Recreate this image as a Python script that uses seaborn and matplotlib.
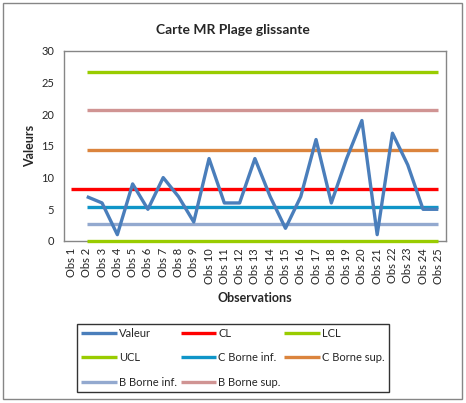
import numpy as np
import pandas as pd
import matplotlib
matplotlib.use("Agg")
import matplotlib.pyplot as plt
import seaborn as sns
from matplotlib.patches import Rectangle

# data
obs_labels = [f"Obs {i}" for i in range(1, 26)]
mr_values = [np.nan, 7, 6, 1, 9, 5, 10, 7, 3, 13, 6, 6, 13, 7, 2, 7, 16, 6, 13, 19, 1, 17, 12, 5, 5]
cl = 8.17
lcl = 0.0
ucl = 26.7
c_inf = 5.3
c_sup = 14.3
b_inf = 2.7
b_sup = 20.6

sns.set_style("white")
plt.rcParams["font.family"] = ["Lato", "DejaVu Sans"]

x = np.arange(len(obs_labels))
fig = plt.figure(figsize=(4.66, 4.03), dpi=100)
ax = fig.add_axes([0.137, 0.402, 0.82, 0.472])

series = [
    ("Valeur", x, mr_values, "#4A7EBB"),
    ("CL", x, [cl] * 25, "#FF0000"),
    ("LCL", x[1:], [lcl] * 24, "#99CC00"),
    ("UCL", x[1:], [ucl] * 24, "#99CC00"),
    ("C Borne inf.", x[1:], [c_inf] * 24, "#0F95C8"),
    ("C Borne sup.", x[1:], [c_sup] * 24, "#DB843D"),
    ("B Borne inf.", x[1:], [b_inf] * 24, "#93A9CF"),
    ("B Borne sup.", x[1:], [b_sup] * 24, "#D09493"),
]
# draw in reverse so Valeur sits on top
for name, xs, ys, col in series[::-1]:
    df = pd.DataFrame({"x": xs, "y": ys}).dropna()
    sns.lineplot(data=df, x="x", y="y", ax=ax, color=col, lw=2.4, label=name, legend=False,
                 solid_capstyle="butt")
    if name == "LCL":
        ax.lines[-1].set_clip_on(False)
        ax.lines[-1].set_zorder(3)

ax.set_xlim(-0.5, 24.5)
ax.set_ylim(0, 30)
ax.set_yticks(range(0, 31, 5))
ax.set_xticks(x)
ax.set_xticklabels(obs_labels, rotation=90, fontsize=8, color="#222222")
ax.set_xticks(np.arange(-0.5, 25, 1), minor=True)
ax.tick_params(axis="x", which="major", length=0, pad=5)
ax.tick_params(axis="x", which="minor", length=4, color="#868686", direction="out")
ax.tick_params(axis="y", length=4, color="#868686", direction="out", labelsize=8, pad=3)
for s in ax.spines.values():
    s.set_color("#868686")
    s.set_linewidth(1)
ax.set_xlabel("Observations", fontsize=9, fontweight="bold", labelpad=6)
ax.set_ylabel("Valeurs", fontsize=9, fontweight="bold", labelpad=4)
fig.suptitle("Carte MR Plage glissante", fontsize=10, fontweight="bold", y=0.94)

handles, labels = ax.get_legend_handles_labels()
hmap = dict(zip(labels, handles))
order = [0, 3, 6, 1, 4, 7, 2, 5]
names = [series[i][0] for i in order]
leg = fig.legend([hmap[n] for n in names], names, ncol=3, loc="lower left",
                 bbox_to_anchor=(0.165, 0.027, 0.67, 0.184), mode="expand",
                 fontsize=8, frameon=True, fancybox=False, edgecolor="black",
                 handlelength=3.2, handletextpad=0.2, labelspacing=1.2, borderaxespad=0)
leg.get_frame().set_linewidth(1)

fig.patches.append(Rectangle((3 / 466, 4 / 403), 459 / 466, 396 / 403, transform=fig.transFigure,
                             fill=False, edgecolor="#868686", lw=1))

fig.savefig("out.png", dpi=100)
